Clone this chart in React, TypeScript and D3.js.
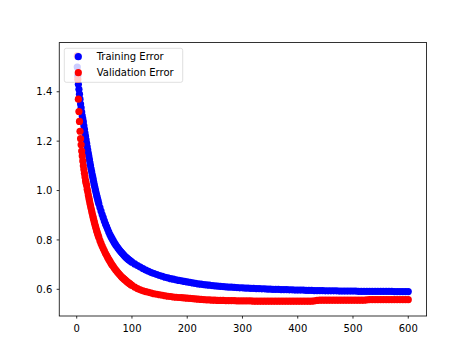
import React from 'react';
import * as d3 from 'd3';

// epochs: every epoch at the steep start, then sparser
const epochs: number[] = [
  ...d3.range(1, 41),
  ...d3.range(42, 101, 2),
  ...d3.range(105, 601, 5),
];

const trainingError: number[] = [
  // 1..40
  1.50, 1.465, 1.43, 1.41, 1.39, 1.37, 1.35, 1.335, 1.318, 1.302,
  1.29, 1.278, 1.262, 1.248, 1.233, 1.219, 1.205, 1.191, 1.177, 1.164,
  1.151, 1.138, 1.125, 1.112, 1.10, 1.088, 1.077, 1.065, 1.054, 1.043,
  1.032, 1.021, 1.011, 1.001, 0.991, 0.982, 0.973, 0.964, 0.955, 0.946,
  // 42..100
  0.931, 0.917, 0.903, 0.890, 0.877, 0.865, 0.854, 0.843, 0.832, 0.822,
  0.813, 0.805, 0.797, 0.789, 0.782, 0.775, 0.769, 0.763, 0.757, 0.752,
  0.747, 0.742, 0.737, 0.732, 0.728, 0.724, 0.720, 0.717, 0.713, 0.710,
  // 105..600
  0.703, 0.696, 0.690, 0.684, 0.678, 0.673, 0.668, 0.664, 0.660, 0.656,
  0.653, 0.649, 0.646, 0.643, 0.641, 0.638, 0.636, 0.634, 0.632, 0.630,
  0.628, 0.626, 0.624, 0.622, 0.621, 0.619, 0.618, 0.617, 0.615, 0.614,
  0.613, 0.612, 0.611, 0.610, 0.609, 0.609, 0.608, 0.607, 0.606, 0.606,
  0.605, 0.605, 0.604, 0.604, 0.603, 0.603, 0.602, 0.602, 0.601, 0.601,
  0.600, 0.600, 0.600, 0.599, 0.599, 0.599, 0.598, 0.598, 0.597, 0.597,
  0.597, 0.597, 0.596, 0.596, 0.596, 0.595, 0.595, 0.595, 0.595, 0.594,
  0.594, 0.594, 0.594, 0.594, 0.593, 0.593, 0.593, 0.593, 0.593, 0.593,
  0.593, 0.592, 0.592, 0.592, 0.592, 0.592, 0.592, 0.592, 0.592, 0.592,
  0.592, 0.592, 0.592, 0.592, 0.591, 0.591, 0.591, 0.591, 0.591, 0.591,
];

const validationError: number[] = [
  // 1..40
  1.545, 1.45, 1.37, 1.32, 1.28, 1.24, 1.21, 1.185, 1.16, 1.14,
  1.12, 1.10, 1.085, 1.07, 1.055, 1.04, 1.03, 1.02, 1.005, 0.995,
  0.982, 0.97, 0.96, 0.948, 0.938, 0.928, 0.918, 0.908, 0.898, 0.889,
  0.88, 0.871, 0.862, 0.854, 0.846, 0.838, 0.831, 0.824, 0.817, 0.81,
  // 42..100
  0.797, 0.786, 0.775, 0.765, 0.756, 0.746, 0.738, 0.729, 0.721, 0.714,
  0.706, 0.699, 0.693, 0.686, 0.680, 0.675, 0.669, 0.664, 0.659, 0.654,
  0.649, 0.645, 0.641, 0.637, 0.633, 0.629, 0.626, 0.623, 0.619, 0.616,
  // 105..600
  0.609, 0.603, 0.598, 0.594, 0.591, 0.588, 0.585, 0.582, 0.580, 0.578,
  0.576, 0.574, 0.572, 0.571, 0.569, 0.568, 0.567, 0.566, 0.565, 0.564,
  0.563, 0.562, 0.561, 0.560, 0.559, 0.558, 0.557, 0.557, 0.556, 0.556,
  0.555, 0.555, 0.555, 0.554, 0.554, 0.554, 0.554, 0.553, 0.553, 0.553,
  0.553, 0.553, 0.553, 0.552, 0.552, 0.552, 0.552, 0.552, 0.552, 0.552,
  0.552, 0.552, 0.552, 0.552, 0.552, 0.552, 0.552, 0.552, 0.552, 0.552,
  0.552, 0.552, 0.552, 0.552, 0.552, 0.553, 0.555, 0.556, 0.556, 0.556,
  0.556, 0.556, 0.556, 0.556, 0.556, 0.556, 0.556, 0.556, 0.556, 0.556,
  0.556, 0.556, 0.556, 0.556, 0.557, 0.558, 0.558, 0.558, 0.558, 0.558,
  0.558, 0.558, 0.558, 0.558, 0.558, 0.558, 0.558, 0.558, 0.558, 0.558,
];

const xTicks = [0, 100, 200, 300, 400, 500, 600];
const yTicks = [0.6, 0.8, 1.0, 1.2, 1.4];

const series = [
  { name: 'Training Error', values: trainingError, color: '#0000ff' },
  { name: 'Validation Error', values: validationError, color: '#ff0000' },
];

const W = 474;
const H = 355;
const margin = { top: 42.6, right: 47.4, bottom: 39, left: 59.25 };
const font = 'DejaVu Sans, sans-serif';

export default function App() {
  const innerW = W - margin.left - margin.right;
  const innerH = H - margin.top - margin.bottom;

  const x = d3.scaleLinear().domain([-31.6, 633.2]).range([0, innerW]);
  const y = d3.scaleLinear().domain([0.492, 1.599]).range([innerH, 0]);

  return (
    <svg
      width={W}
      height={H}
      style={{ position: 'absolute', left: 0, top: 0, background: '#fff', fontFamily: font }}
    >
      <defs>
        <clipPath id="plot-area">
          <rect x={0} y={0} width={innerW} height={innerH} />
        </clipPath>
      </defs>
      <g transform={`translate(${margin.left},${margin.top})`}>
        {/* points */}
        <g clipPath="url(#plot-area)">
          {series.map(s => (
            <g key={s.name} fill={s.color}>
              {s.values.map((v, i) => (
                <circle key={i} cx={x(epochs[i])} cy={y(v)} r={3.6} />
              ))}
            </g>
          ))}
        </g>

        {/* frame */}
        <rect x={0} y={0} width={innerW} height={innerH} fill="none" stroke="#000" strokeWidth={0.8} />

        {/* x ticks */}
        {xTicks.map(t => (
          <g key={`x-${t}`} transform={`translate(${x(t)},${innerH})`}>
            <line y1={0} y2={2.6} stroke="#000" strokeWidth={0.8} />
            <text y={15.5} textAnchor="middle" fontSize={10} fill="#000">{t}</text>
          </g>
        ))}

        {/* y ticks */}
        {yTicks.map(t => (
          <g key={`y-${t}`} transform={`translate(0,${y(t)})`}>
            <line x1={-2.6} x2={0} stroke="#000" strokeWidth={0.8} />
            <text x={-7} y={3.6} textAnchor="end" fontSize={10} fill="#000">{t.toFixed(1)}</text>
          </g>
        ))}
      </g>

      {/* legend */}
      <g transform="translate(64.3,48.3)">
        <rect
          width={118.4}
          height={34}
          rx={2}
          fill="#fff"
          fillOpacity={0.8}
          stroke="#ccc"
          strokeOpacity={0.8}
          strokeWidth={0.8}
        />
        {series.map((s, i) => (
          <g key={s.name} transform={`translate(0,${8.4 + i * 16})`}>
            <circle cx={14} cy={0} r={3.6} fill={s.color} />
            <text x={32.4} y={3.7} fontSize={10} fill="#000">{s.name}</text>
          </g>
        ))}
      </g>
    </svg>
  );
}
